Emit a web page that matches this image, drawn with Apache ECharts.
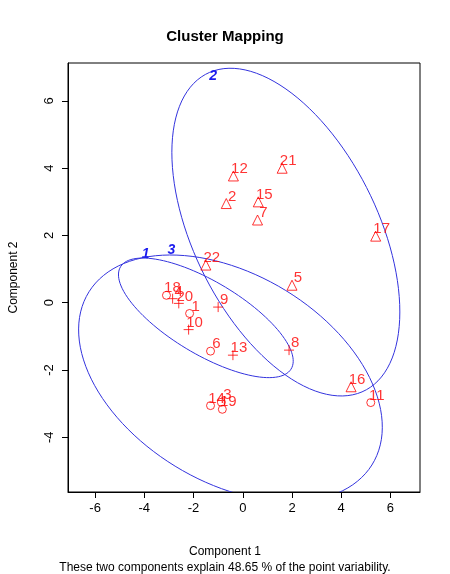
<!DOCTYPE html>
<html><head><meta charset="utf-8">
<script src="https://cdn.jsdelivr.net/npm/echarts@6/dist/echarts.min.js"></script>
<style>html,body{margin:0;background:#fff}#c{width:450px;height:574px}</style>
</head><body><div id="c"></div>
<script>
// points: [x, y, name]
var clus1 = [[-3.1,0.22,'18'],[-2.16,-0.32,'1'],[-1.31,-1.44,'6'],[-1.31,-3.06,'14'],[-0.87,-2.96,'3'],[-0.83,-3.17,'19'],[5.2,-2.97,'11']];
var clus2 = [[-0.38,3.77,'12'],[1.6,4.0,'21'],[-0.67,2.95,'2'],[0.63,3.0,'15'],[0.6,2.46,'7'],[5.4,1.98,'17'],[-1.5,1.12,'22'],[2.0,0.52,'5'],[4.4,-2.5,'16']];
var clus3 = [[-2.6,-0.02,'20'],[-2.85,0.12,'4'],[-1.0,-0.13,'9'],[-2.2,-0.8,'10'],[-0.4,-1.56,'13'],[1.88,-1.41,'8']];
// ellipses: [cx, cy, semi-major, semi-minor, angle deg]
var ellipses = [[-0.5,-2.25,6.4,3.25,-18],[1.75,2.1,5.8,3.4,-48],[-1.5,-0.45,3.8,1.15,-22]];
var ellLabels = [[-3.95,1.45,'1'],[-1.2,6.75,'2'],[-2.9,1.55,'3']];
var xTicks = [-6,-4,-2,0,2,4,6];
var yTicks = [-4,-2,0,2,4,6];

var chart = echarts.init(document.getElementById('c'));
var red = '#ff0000';
function pts(data, symbol, size) {
  return {
    type: 'scatter', data: data, symbol: symbol, symbolSize: size,
    itemStyle: { color: 'rgba(0,0,0,0)', borderColor: red, borderWidth: 1 },
    label: { show: true, formatter: function(p){ return p.data[2]; }, position: 'inside', offset: [6,-7],
      color: red, fontSize: 15, fontFamily: 'Liberation Sans' },
    z: 5
  };
}
var ax = { color: '#000', fontSize: 13, fontFamily: 'Liberation Sans' };
chart.setOption({
  animation: false,
  title: [
    { text: 'Cluster Mapping', left: 'center', top: 24, textStyle: { fontSize: 15, fontWeight: 'bold', color: '#000', fontFamily: 'Liberation Sans' } },
    { text: 'Component 1', left: 'center', top: 541, textStyle: { fontSize: 12, fontWeight: 'normal', color: '#000', fontFamily: 'Liberation Sans' } },
    { text: 'These two components explain 48.65 % of the point variability.', left: 'center', top: 557, textStyle: { fontSize: 12, fontWeight: 'normal', color: '#000', fontFamily: 'Liberation Sans' } }
  ],
  grid: { left: 65, right: 30, top: 63, bottom: 82, show: true, borderColor: '#000', borderWidth: 1 },
  xAxis: { type: 'value', min: -7.1, max: 7.2, splitLine: { show: false },
    axisLine: { show: true, onZero: false, lineStyle: { color: '#000' } },
    axisTick: { customValues: xTicks, lineStyle: { color: '#000' }, length: 6 },
    axisLabel: Object.assign({ customValues: xTicks, margin: 10 }, ax) },
  yAxis: { type: 'value', min: -5.63, max: 7.13, splitLine: { show: false },
    name: 'Component 2', nameLocation: 'middle', nameGap: 48, nameRotate: 90,
    nameTextStyle: { fontSize: 12, color: '#000', fontFamily: 'Liberation Sans' },
    axisLine: { show: true, onZero: false, lineStyle: { color: '#000' } },
    axisTick: { customValues: yTicks, lineStyle: { color: '#000' }, length: 6 },
    axisLabel: Object.assign({ customValues: yTicks, rotate: 90, margin: 12 }, ax) },
  series: [
    {
      type: 'custom', data: ellipses, silent: true, clip: true,
      renderItem: function(params, api) {
        var e = ellipses[params.dataIndex];
        var t = e[4] * Math.PI / 180, p = [];
        for (var i = 0; i <= 120; i++) {
          var a = i / 120 * 2 * Math.PI;
          var u = e[2] * Math.cos(a), v = e[3] * Math.sin(a);
          p.push(api.coord([e[0] + u * Math.cos(t) - v * Math.sin(t), e[1] + u * Math.sin(t) + v * Math.cos(t)]));
        }
        var l = ellLabels[params.dataIndex], lp = api.coord([l[0], l[1]]);
        return { type: 'group', children: [
          { type: 'polyline', shape: { points: p }, style: { stroke: '#3333dd', lineWidth: 1, fill: null } },
          { type: 'text', x: lp[0], y: lp[1], style: { text: l[2], fill: '#1a1aee', font: 'italic bold 14px Liberation Sans', align: 'center', verticalAlign: 'middle' } }
        ] };
      }
    },
    pts(clus1, 'circle', 8),
    pts(clus2, 'path://M5,0L10,9L0,9Z', 10),
    pts(clus3, 'path://M0,5L10,5M5,0L5,10', 10)
  ]
});
</script></body></html>
